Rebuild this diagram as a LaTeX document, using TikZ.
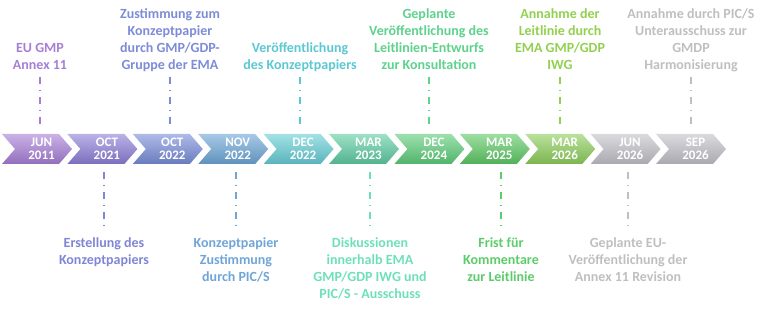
\documentclass[tikz,border=0pt]{standalone}
\usepackage{fontspec}
\setmainfont{Carlito}
\definecolor{cA}{HTML}{A67DD6}
\definecolor{cB}{HTML}{8C7DD6}
\definecolor{cC}{HTML}{788CD8}
\definecolor{cD}{HTML}{6CA5D6}
\definecolor{cE}{HTML}{64CDD4}
\definecolor{cF}{HTML}{5CCCA0}
\definecolor{cG}{HTML}{5CCC78}
\definecolor{cH}{HTML}{5CC864}
\definecolor{cI}{HTML}{8CCD5A}
\definecolor{cJ}{HTML}{C0C0C8}
\definecolor{cK}{HTML}{C0C0C8}
\definecolor{tA}{HTML}{A67FD4}
\definecolor{tB}{HTML}{8086D6}
\definecolor{tC}{HTML}{7C8CD6}
\definecolor{tD}{HTML}{70A5D7}
\definecolor{tE}{HTML}{5CC8D2}
\definecolor{tF}{HTML}{6EE0B9}
\definecolor{tG}{HTML}{5ED28C}
\definecolor{tH}{HTML}{5CCC6A}
\definecolor{tI}{HTML}{92D050}
\definecolor{tJ}{HTML}{BFBFBF}
\definecolor{tK}{HTML}{BFBFBF}
\newcommand\firststrut{\rule{0pt}{10.5pt}}
\tikzset{
  toplab/.style={font=\fontsize{14}{17}\selectfont\bfseries, align=center, inner sep=0pt, anchor=south, text depth=3pt},
  botlab/.style={font=\fontsize{14}{17}\selectfont\bfseries, align=center, inner sep=0pt, anchor=north},
  chevtext/.style={font=\fontsize{13}{13}\selectfont\bfseries, text=white, align=center, inner sep=0pt},
  dd/.style={line width=2.2pt, dash pattern=on 7pt off 6pt on 1.2pt off 6pt}
}
\begin{document}
\begin{tikzpicture}[x=1pt,y=-1pt]
\useasboundingbox (0,0) rectangle (768,312);
% chevrons
\foreach \i/\col/\m/\yr in {0/cA/JUN/2011, 1/cB/OCT/2021, 2/cC/OCT/2022, 3/cD/NOV/2022, 4/cE/DEC/2022, 5/cF/MAR/2023, 6/cG/DEC/2024, 7/cH/MAR/2025, 8/cI/MAR/2026, 9/cJ/JUN/2026, 10/cK/SEP/2026} {
  \pgfmathsetmacro\cx{40.5+65.4*\i}
  \shade[top color=\col!60!white, middle color=\col, bottom color=\col!88!black]
    (\cx-38.5,134) -- ++(57,0) -- ++(13,15) -- ++(-13,15) -- ++(-57,0) -- ++(13,-15) -- cycle;
  \node[chevtext] (m\i) at (\cx+1,149) {\m\\\yr};
}
% top labels
\node[toplab, text=tA] (L1) at (40,72.5) {EU GMP\\Annex 11};
\node[toplab, text=tC] (L3) at (170,72.5) {Zustimmung zum\\Konzeptpapier\\durch GMP/GDP-\\Gruppe der EMA};
\node[toplab, text=tE] (L5) at (300,72.5) {Veröffentlichung\\des Konzeptpapiers};
\node[toplab, text=tG] (L7) at (429,72.5) {Geplante\\Veröffentlichung des\\Leitlinien-Entwurfs\\zur Konsultation};
\node[toplab, text=tI] (L9) at (560,72.5) {Annahme der\\Leitlinie durch\\EMA GMP/GDP\\IWG};
\node[toplab, text=tJ] (L11) at (691,72.5) {Annahme durch PIC/S\\Unterausschuss zur\\GMDP\\Harmonisierung};
% bottom labels
\node[botlab, text=tB] (L2) at (104,237) {\firststrut Erstellung des\\Konzeptpapiers};
\node[botlab, text=tD] (L4) at (236,237) {\firststrut Konzeptpapier\\Zustimmung\\durch PIC/S};
\node[botlab, text=tF] (L6) at (370,237) {\firststrut Diskussionen\\innerhalb EMA\\GMP/GDP IWG und\\PIC/S - Ausschuss};
\node[botlab, text=tH] (L8) at (501,237) {\firststrut Frist für\\Kommentare\\zur Leitlinie};
\node[botlab, text=tJ] (L10) at (628,237) {\firststrut Geplante EU-\\Veröffentlichung der\\Annex 11 Revision};
% connector end points
\foreach \n/\x in {1/40, 3/170, 5/300, 7/429, 9/560, 11/691} {
  \coordinate (a\n) at (\x,77);
  \coordinate (b\n) at (\x,127);
}
\foreach \n/\x in {2/104, 4/236, 6/370, 8/501, 10/628} {
  \coordinate (a\n) at (\x,172);
  \coordinate (b\n) at (\x,226);
}
\draw[dd, tA] (a1) -- (b1);
\draw[dd, tC] (a3) -- (b3);
\draw[dd, tE] (a5) -- (b5);
\draw[dd, tG] (a7) -- (b7);
\draw[dd, tI] (a9) -- (b9);
\draw[dd, tJ] (a11) -- (b11);
\draw[dd, tB] (a2) -- (b2);
\draw[dd, tD] (a4) -- (b4);
\draw[dd, tF] (a6) -- (b6);
\draw[dd, tH] (a8) -- (b8);
\draw[dd, tJ] (a10) -- (b10);
\end{tikzpicture}
\end{document}
